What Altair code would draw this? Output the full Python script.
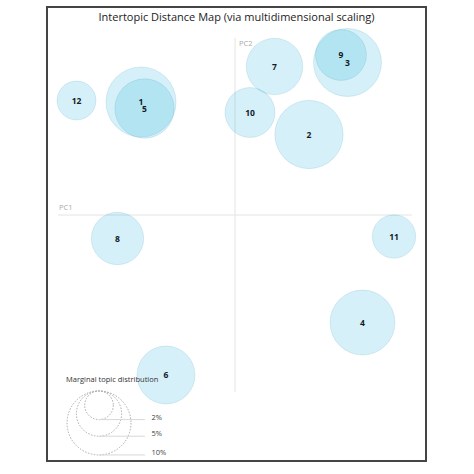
import math
import altair as alt
import pandas as pd

# ---- data ----
topics = ["1", "2", "3", "4", "5", "6", "7", "8", "9", "10", "11", "12"]
pc1 = [-0.188, 0.148, 0.225, 0.255, -0.181, -0.138, 0.079, -0.235, 0.212, 0.030, 0.318, -0.317]
pc2 = [0.226, 0.161, 0.305, -0.215, 0.213, -0.320, 0.297, -0.047, 0.320, 0.205, -0.043, 0.229]
marginal = [12.0, 11.4, 11.3, 10.3, 8.6, 8.2, 7.8, 6.7, 6.3, 6.1, 4.6, 3.7]  # % of tokens

legend_pct = [2, 5, 10]
legend_text = ["2%", "5%", "10%"]
axis_extent = 0.354
title_text = "Intertopic Distance Map (via multidimensional scaling)"
legend_title = "Marginal topic distribution"

# ---- layout helpers ----
W, H = 379, 454
PX = 500.0  # pixels per data unit
x_dom = [-188 / PX, 191 / PX]
y_dom = [-246 / PX, 208 / PX]
size_k = 409.0  # symbol size units per percent (vega circle: r = sqrt(size)/2)
size_scale = alt.Scale(type="linear", domain=[0, 10], range=[0, size_k * 10])
FONT = "Open Sans"

xs = alt.Scale(domain=x_dom, nice=False, zero=False)
ys = alt.Scale(domain=y_dom, nice=False, zero=False)

topic_df = pd.DataFrame({"topic": topics, "x": pc1, "y": pc2, "pct": marginal})

# legend geometry (nested circles sharing a top edge)
leg_cx, leg_top = -0.272, -0.352
rows = []
for p, t in zip(legend_pct, legend_text):
    r = math.sqrt(size_k * p) / 2 / PX
    rows.append({"pct": p, "label": t, "x": leg_cx, "y": leg_top - r,
                 "ly": leg_top - 2 * r, "lx2": -0.180, "tx": -0.167})
leg_df = pd.DataFrame(rows)

axes_df = pd.DataFrame({
    "x": [-axis_extent, 0.0], "x2": [axis_extent, 0.0],
    "y": [0.0, axis_extent], "y2": [0.0, -axis_extent],
})
pc_lab_df = pd.DataFrame({"x": [-axis_extent, 0.0], "y": [0.0, axis_extent], "t": ["PC1", "PC2"]})

X = lambda f: alt.X(f, type="quantitative", scale=xs, axis=None)
Y = lambda f: alt.Y(f, type="quantitative", scale=ys, axis=None)

axes = alt.Chart(axes_df).mark_rule(color="#e4e4e4", strokeWidth=1).encode(
    x=X("x"), x2="x2", y=Y("y"), y2="y2")

pc1_lab = alt.Chart(pc_lab_df.iloc[[0]]).mark_text(
    align="left", baseline="bottom", dx=1, dy=-3, fontSize=7.5, font=FONT, color="#aaaaaa"
).encode(x=X("x"), y=Y("y"), text="t:N")
pc2_lab = alt.Chart(pc_lab_df.iloc[[1]]).mark_text(
    align="left", baseline="top", dx=4, dy=2, fontSize=7.5, font=FONT, color="#aaaaaa"
).encode(x=X("x"), y=Y("y"), text="t:N")

circles = alt.Chart(topic_df).mark_circle(
    fill="#2fb5dc", fillOpacity=0.2, stroke="#2f8fb0", strokeOpacity=0.15, strokeWidth=1
).encode(x=X("x"), y=Y("y"), size=alt.Size("pct:Q", scale=size_scale, legend=None))

labels = alt.Chart(topic_df).mark_text(
    fontSize=8.5, fontWeight="bold", font=FONT, color="#111c26", align="center", baseline="middle"
).encode(x=X("x"), y=Y("y"), text="topic:N")

leg_circles = alt.Chart(leg_df).mark_point(
    shape="circle", filled=False, stroke="#aaaaaa", strokeWidth=1, strokeDash=[1.5, 1.5], opacity=1
).encode(x=X("x"), y=Y("y"), size=alt.Size("pct:Q", scale=size_scale, legend=None))

leg_lines = alt.Chart(leg_df).mark_rule(color="#d8d8d8", strokeWidth=1).encode(
    x=X("x"), x2="lx2", y=Y("ly"))

leg_labels = alt.Chart(leg_df).mark_text(
    align="left", baseline="middle", dy=-2, fontSize=7.5, font=FONT, color="#444444"
).encode(x=X("tx"), y=Y("ly"), text="label:N")

leg_title_df = pd.DataFrame({"x": [-0.338], "y": [-0.338], "t": [legend_title]})
leg_title = alt.Chart(leg_title_df).mark_text(
    align="left", baseline="bottom", fontSize=7.5, font=FONT, color="#333333"
).encode(x=X("x"), y=Y("y"), text="t:N")

chart = alt.layer(
    axes, pc1_lab, pc2_lab, circles, labels, leg_circles, leg_lines, leg_labels, leg_title
).properties(
    width=W, height=H,
    title=alt.TitleParams(text=title_text, fontSize=11, font=FONT, fontWeight="normal",
                          color="#222222", offset=-16, frame="group", anchor="middle"),
    autosize=alt.AutoSizeParams(type="none"),
    padding={"left": 47, "top": 7, "right": 48, "bottom": 13},
    background="white",
).configure_view(stroke="#444444", strokeWidth=2)

chart.save("out.html", embed_options={"renderer": "svg", "actions": False})
